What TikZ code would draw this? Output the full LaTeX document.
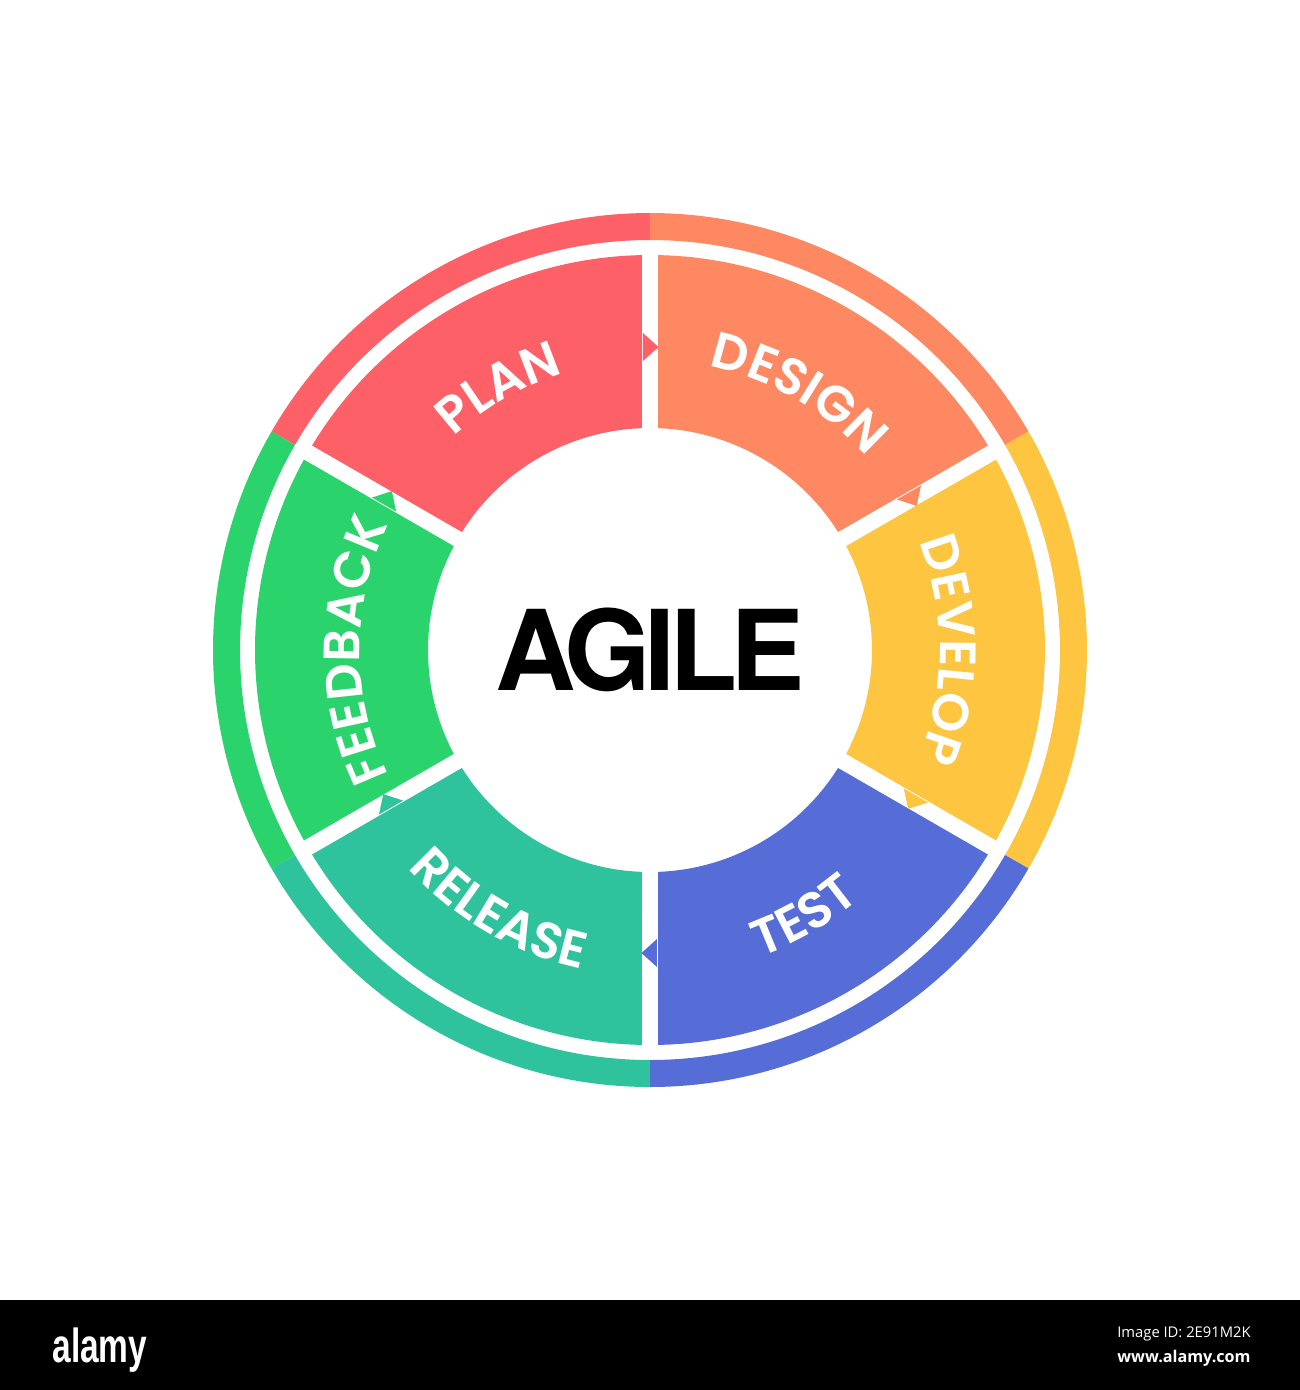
\documentclass[tikz,border=0pt]{standalone}
\usepackage{fontspec}
\setsansfont{Poppins}[BoldFont={* SemiBold}]
\newfontfamily\agilefont[LetterSpace=-6]{TeX Gyre Heros}
\newfontfamily\brandfont{Liberation Sans}
\newfontfamily\idfont{Open Sans}
\usetikzlibrary{decorations.text}

\definecolor{plan}{HTML}{FD6167}
\definecolor{design}{HTML}{FD8861}
\definecolor{develop}{HTML}{FDC540}
\definecolor{test}{HTML}{566CD6}
\definecolor{release}{HTML}{2EC39D}
\definecolor{feedback}{HTML}{2AD36B}

\begin{document}
\begin{tikzpicture}[
        gap/.style={white, line width=1.6mm},
        steplabel/.style={decorate, decoration={text along path, text align=center,
            text color=white, text={|\sffamily\bfseries\fontsize{14.5}{16}\selectfont|#1}}},
        title/.style={font=\agilefont\bfseries\fontsize{31.7}{32}\selectfont, inner sep=0pt},
        banner/.style={text=white, inner sep=0pt, anchor=base},
    ]

    \useasboundingbox (-6.5,-7.4) rectangle (6.5,6.5);

    % Outer ring and inner sectors
    \foreach \a/\c in {90/plan, 30/design, -30/develop, -90/test, -150/release, 150/feedback} {
        \fill[\c] (\a:4.10) arc[start angle=\a, end angle=\a+60, radius=4.10]
            -- ({\a+60}:4.37) arc[start angle=\a+60, end angle=\a, radius=4.37] -- cycle;
        \fill[\c] (\a:2.22) -- (\a:3.95) arc[start angle=\a, end angle=\a+60, radius=3.95]
            -- ({\a+60}:2.22) arc[start angle=\a+60, end angle=\a, radius=2.22] -- cycle;
    }

    % White gaps between sectors
    \foreach \a in {90,30,-30,-90,-150,150}
        \draw[gap] (\a:2.0) -- (\a:4.0);

    % Small pointers into the next step
    \foreach \a/\c in {90/plan, 30/design, -30/develop, -90/test, -150/release, 150/feedback}
        \fill[\c, rotate=\a] (2.89,0.07) -- (3.17,0.07) -- (3.03,-0.085) -- cycle;

    % Step labels
    \path[steplabel=PLAN] (148:2.90) arc[start angle=148, end angle=92, radius=2.90];
    \path[steplabel=DESIGN] (88:2.90) arc[start angle=88, end angle=32, radius=2.90];
    \path[steplabel=DEVELOP] (28:2.90) arc[start angle=28, end angle=-28, radius=2.90];
    \path[steplabel=FEEDBACK] (208:2.90) arc[start angle=208, end angle=152, radius=2.90];
    \path[steplabel=TEST] (-88:3.26) arc[start angle=-88, end angle=-32, radius=3.26];
    \path[steplabel=RELEASE] (-148:3.26) arc[start angle=-148, end angle=-92, radius=3.26];

    % Centre title
    \node[title] (agile) at (0,0) {AGILE};

    % Bottom banner
    \fill[black] (-6.5,-6.5) rectangle (6.5,-7.4);
    \node[banner, anchor=base west, xscale=0.7, font=\brandfont\bfseries\fontsize{13.6}{14}\selectfont]
        (brand) at (-5.98,-7.12) {alamy};
    \node[banner, font=\idfont\fontsize{4.2}{5}\selectfont] (imageid) at (5.34,-6.87) {Image ID: 2E91M2K};
    \node[banner, font=\idfont\bfseries\fontsize{4.6}{5}\selectfont] (site) at (5.34,-7.12) {www.alamy.com};

\end{tikzpicture}
\end{document}
